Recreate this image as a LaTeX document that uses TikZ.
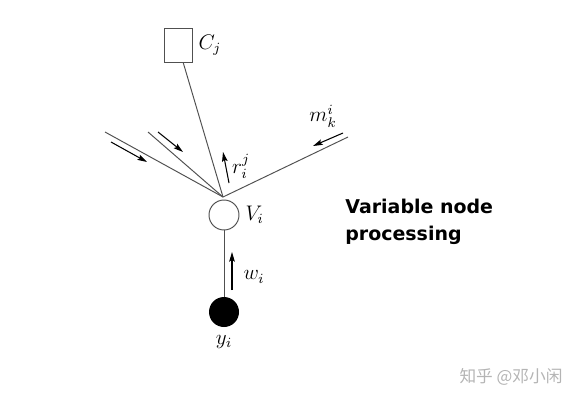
\documentclass[tikz,border=0pt]{standalone}
\usepackage{fontspec}
\newfontfamily\titlefont{DejaVu Sans}
\newfontfamily\cjkfont{Noto Sans CJK SC}
\usetikzlibrary{arrows.meta,positioning,calc}
\definecolor{edgegray}{RGB}{80,80,80}
\definecolor{markgray}{RGB}{180,180,180}

\begin{document}
\begin{tikzpicture}[x=0.02cm, y=-0.02cm, >={Stealth[length=5.5pt,width=3.2pt,inset=1pt]},
  edge/.style={edgegray, line width=0.55pt},
  msg/.style={->, black, line width=0.6pt},
  mathlab/.style={font=\fontsize{11.5}{13}\selectfont}]
\useasboundingbox (0,0) rectangle (580,402);
% nodes
\node[draw=edgegray, line width=0.55pt, minimum width=0.56cm, minimum height=0.68cm] (cj) at (178,45) {};
\node[mathlab, right=0pt of cj] (cjlab) {$C_j$};
\node[draw=edgegray, line width=0.55pt, circle, minimum size=0.6cm, inner sep=0pt] (vi) at (224,215) {};
\node[mathlab, right=0pt of vi] (vilab) {$V_i$};
\node[fill=black, circle, minimum size=0.6cm, inner sep=0pt] (yi) at (224,312) {};
\node[mathlab, below=1pt of yi] (yilab) {$y_i$};
% edge ends
\coordinate (hub) at (223,197);
\coordinate (l1) at (105,132);
\coordinate (l2) at (148,132);
\coordinate (r1) at (348,137);
\draw[edge] (hub) -- (cj);
\draw[edge] (hub) -- (l1);
\draw[edge] (hub) -- (l2);
\draw[edge] (hub) -- (r1);
\draw[edge] (vi) -- (yi);
% messages
\coordinate (a1s) at (111,142); \coordinate (a1e) at (147,162);
\coordinate (a2s) at (158,132); \coordinate (a2e) at (183,152);
\coordinate (ms) at (343,133);  \coordinate (me) at (313,146);
\coordinate (rs) at (229,183);  \coordinate (re) at (223,152);
\coordinate (ws) at (232,290);  \coordinate (we) at (232,252);
\draw[msg] (a1s) -- (a1e);
\draw[msg] (a2s) -- (a2e);
\draw[msg] (ms) -- (me);
\draw[msg] (rs) -- (re);
\draw[msg] (ws) -- (we);
\node[mathlab, inner sep=1pt] (mlab) at (323,116) {$m_k^i$};
\node[mathlab] (rlab) at (241,166) {$r_i^j$};
\node[mathlab] (wlab) at (254,277) {$w_i$};
% text
\node[font=\titlefont\bfseries\fontsize{10.8}{15}\selectfont, align=left, anchor=west, inner sep=0pt] (title) at (345,222) {Variable node\\processing};
\node[font=\cjkfont\fontsize{9.5}{9.5}\selectfont, text=markgray, inner sep=0pt] (mark) at (511,377) {知乎 @邓小闲};
\end{tikzpicture}
\end{document}
